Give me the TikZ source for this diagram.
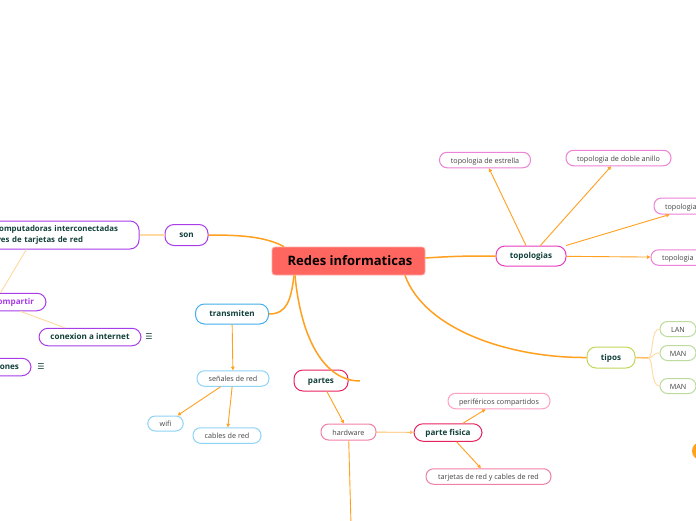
\documentclass[tikz,border=0pt]{standalone}
\usepackage{fontspec}
\setmainfont{Open Sans}
\usetikzlibrary{arrows.meta}
\definecolor{ink}{HTML}{12403A}
\definecolor{greytext}{HTML}{444444}
\definecolor{orangeline}{HTML}{FFA01E}
\definecolor{paleline}{HTML}{FFD9A0}
\definecolor{midline}{HTML}{FFBE66}
\definecolor{purp}{HTML}{A83CE8}
\definecolor{blu}{HTML}{45AEEB}
\definecolor{palblu}{HTML}{8FD3F7}
\definecolor{crim}{HTML}{E8225F}
\definecolor{palcrim}{HTML}{F080A5}
\definecolor{palpink}{HTML}{FF9FC4}
\definecolor{magen}{HTML}{E83CC0}
\definecolor{palmag}{HTML}{EE82D8}
\definecolor{olive}{HTML}{C2D65A}
\definecolor{palgreen}{HTML}{BCDC9C}
\definecolor{centerfill}{HTML}{FF6660}
\definecolor{centeredge}{HTML}{FFAAA5}
\tikzset{
  x=1pt,y=-1pt,
  basenode/.style={rounded corners=7.5pt,inner sep=0pt,fill=white,line width=1pt},
  mainnode/.style={basenode,rounded corners=9pt,text=ink,font=\fontsize{8.1}{11}\selectfont\bfseries},
  subnode/.style={basenode,text=greytext,font=\fontsize{7.2}{9}\selectfont,text height=7.5pt,text depth=1.5pt},
  oneline/.style={text height=7pt,text depth=1.8pt},
  thickline/.style={draw=orangeline,line width=1.5pt},
  arrowline/.style={draw=orangeline,line width=0.9pt,-{Triangle[length=3.5pt,width=3.5pt]}},
  softarrow/.style={draw=midline,line width=0.9pt,-{Triangle[length=3.5pt,width=3.5pt]}},
  paleedge/.style={draw=paleline,line width=0.9pt},
  menuicon/.style={text=ink,font=\fontsize{8}{9}\selectfont,inner sep=0pt},
}
\newfontfamily\symbolfont{DejaVu Sans}
\begin{document}
\begin{tikzpicture}
\useasboundingbox (0,0) rectangle (696,520);
\fill[white] (0,0) rectangle (696,520);
\clip (0,0) rectangle (696,520);

% central
\node[rounded corners=3pt,fill=centerfill,draw=centeredge,line width=0.8pt,minimum width=153pt,minimum height=28pt,inner sep=0pt,font=\fontsize{13}{15}\selectfont\bfseries,text=black,text height=11.5pt,text depth=3pt] (central) at (348.5,261) {\hspace*{3pt}Redes informaticas};

% first-level nodes
\node[mainnode,oneline,draw=purp,minimum width=43pt,minimum height=21pt] (son) at (186.5,235) {son};
\node[mainnode,oneline,draw=blu,minimum width=73pt,minimum height=20pt] (transmiten) at (232,314) {transmiten};
\node[mainnode,oneline,draw=crim,minimum width=54pt,minimum height=21pt] (partes) at (321,380.5) {partes};
\node[mainnode,oneline,draw=magen,minimum width=70pt,minimum height=20pt] (topologias) at (531,256) {topologias};
\node[mainnode,oneline,draw=olive,minimum width=48pt,minimum height=21pt] (tipos) at (611,357.5) {tipos};

% purple branch
\node[mainnode,font=\fontsize{7.85}{11}\selectfont\bfseries,draw=purp,text width=166pt,align=right,minimum height=28pt,inner ysep=2pt,inner xsep=21pt] (big) at (35,235) {computadoras interconectadas\\traves de tarjetas de red\hspace*{35pt}};
\node[mainnode,oneline,draw=purp,text=purp,text width=78pt,align=right,minimum height=17.5pt,inner xsep=12pt] (compartir) at (-5,302) {compartir};
\node[mainnode,oneline,draw=purp,minimum width=102pt,minimum height=17.5pt] (conexion) at (90,337) {conexion a internet};
\node[mainnode,oneline,draw=purp,text width=38pt,align=right,minimum height=17.5pt,inner xsep=12pt] (iones) at (0,367) {iones};
\node[menuicon] (menua) at (149,337) {\symbolfont ☰};
\node[menuicon] (menub) at (41,367) {\symbolfont ☰};

% blue branch
\node[subnode,draw=palblu,minimum width=72pt,minimum height=15.5pt] (senales) at (233,378.5) {señales de red};
\node[subnode,draw=palblu,minimum width=35.5pt,minimum height=15pt] (wifi) at (165.5,423.5) {wifi};
\node[subnode,draw=palblu,minimum width=68pt,minimum height=15.5pt] (cables) at (227,435.5) {cables de red};

% crimson branch
\node[subnode,draw=palcrim,minimum width=55pt,minimum height=16pt] (hardware) at (348.5,432) {hardware};
\node[mainnode,oneline,draw=crim,minimum width=68pt,minimum height=17.5pt] (fisica) at (448,432.5) {parte fisica};
\node[subnode,draw=palpink,minimum width=102pt,minimum height=15.5pt] (perifericos) at (499,401) {periféricos compartidos};
\node[subnode,draw=palcrim,minimum width=125pt,minimum height=15.5pt] (tarjetas) at (488.5,476.5) {tarjetas de red y cables de red};
\coordinate (hwdown) at (351,525);

% magenta branch
\node[subnode,draw=palmag,minimum width=91pt,minimum height=15.5pt] (estrella) at (485,160) {topologia de estrella};
\node[subnode,draw=palmag,minimum width=105pt,minimum height=15.5pt] (doble) at (618.5,158) {topologia de doble anillo};
\node[subnode,draw=palmag,text width=66pt,align=left,minimum height=16pt,inner xsep=11pt] (topa) at (698,206) {topologia};
\node[subnode,draw=palmag,text width=76pt,align=left,minimum height=15.5pt,inner xsep=11pt] (topb) at (700,257.5) {topologia};

% green branch
\node[subnode,draw=palgreen,minimum width=36pt,minimum height=15pt] (lan) at (678,329) {LAN};
\node[subnode,draw=palgreen,minimum width=36pt,minimum height=15pt] (mana) at (678,353) {MAN};
\node[subnode,draw=palgreen,minimum width=36pt,minimum height=15pt] (manb) at (678,386) {MAN};
\coordinate (fork) at (648,358);

% dot at the right edge
\node[circle,fill=orangeline,minimum size=18pt,inner sep=0pt] (dot) at (701,451) {};

% connectors
\draw[draw=paleline,line width=1.5pt] (big.east) -- (son.west);
\draw[paleedge] (big) -- (compartir);
\draw[paleedge] (compartir) -- (conexion);
\draw[arrowline] (transmiten) -- (senales);
\draw[arrowline] (senales) -- (wifi);
\draw[arrowline] (senales) -- (cables);
\draw[arrowline] (partes) -- (hardware);
\draw[softarrow] (hardware) -- (fisica);
\draw[draw=orangeline,line width=0.9pt] (hardware) -- (hwdown);
\draw[arrowline] (fisica) -- (perifericos);
\draw[arrowline] (fisica) -- (tarjetas);
\draw[arrowline] (topologias) -- (estrella);
\draw[arrowline] (topologias) -- (doble);
\draw[arrowline] (topologias) -- (topa);
\draw[arrowline] (topologias) -- (topb);
\draw[draw=midline,line width=1.5pt] (tipos.east) -- (fork);
\draw[paleedge] (fork) .. controls (654,358) and (650,329) .. (lan.west);
\draw[paleedge] (fork) .. controls (654,358) and (652,353) .. (mana.west);
\draw[paleedge] (fork) .. controls (654,358) and (650,386) .. (manb.west);

\draw[thickline] (son.east) .. controls (238,235) and (264,236) .. (central.north west -| 284,247);
\draw[thickline] (central.south west -| 294,275) .. controls (291,300) and (287,314) .. (transmiten.east);
\draw[thickline] (central.south west -| 295,275) .. controls (301,340) and (325,381) .. (360,381);
\draw[thickline] (central.east) ++(0,-3) .. controls (455,256) and (470,256) .. (topologias.west);
\draw[thickline] (central.south east -| 405,275) .. controls (425,330) and (510,358) .. (tipos.west);
\end{tikzpicture}
\end{document}
